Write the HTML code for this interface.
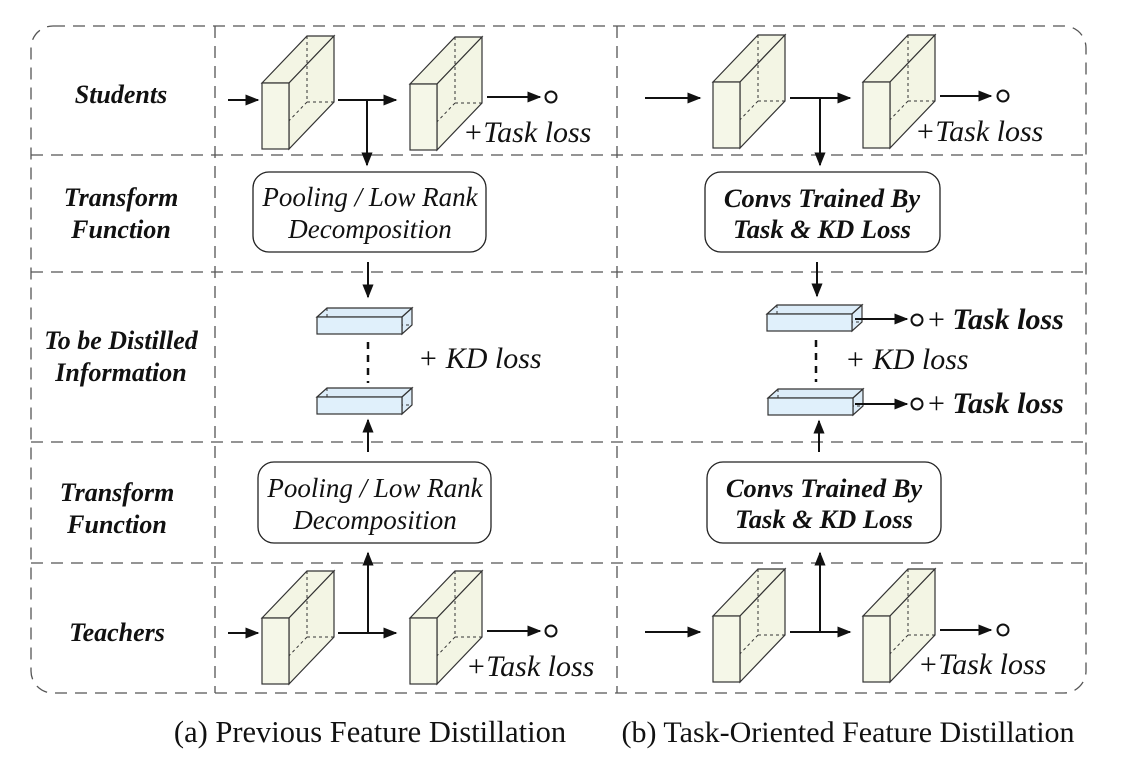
<!DOCTYPE html>
<html><head><meta charset="utf-8"><style>
html,body{margin:0;padding:0;background:#fff}
svg{display:block}
text{font-family:"Liberation Serif",serif;fill:#111}
.lbl{font-weight:bold;font-style:italic;font-size:26px}
.it{font-style:italic;font-size:27px}
.bl{font-weight:bold;font-style:italic;font-size:26.5px}
</style></head><body>
<svg width="1144" height="773" viewBox="0 0 1144 773" xmlns="http://www.w3.org/2000/svg">
<defs>
<marker id="a" viewBox="0 0 10 10" refX="9" refY="5" markerWidth="7" markerHeight="7" orient="auto"><path d="M0,1 L10,5 L0,9 z" fill="#111"/></marker>
<g id="box">
 <path d="M0,0 L45,-47 L72,-47 L27,0 Z" fill="#f3f5e4" stroke="#333" stroke-width="1.2"/>
 <path d="M27,0 L72,-47 L72,19 L27,66 Z" fill="#f3f5e4" stroke="#333" stroke-width="1.2"/>
 <path d="M45,-47 L45,19 L72,19 M45,19 L0,66" fill="none" stroke="#333" stroke-width="1" stroke-dasharray="3,3"/>
 <rect x="0" y="0" width="27" height="66" fill="#f5f7e8" stroke="#333" stroke-width="1.2"/>
</g>
<g id="flat">
 <path d="M0,0 L10,-9 L95,-9 L85,0 Z" fill="#dcecf8" stroke="#333" stroke-width="1.2"/>
 <path d="M85,0 L95,-9 L95,8 L85,17 Z" fill="#dcecf8" stroke="#333" stroke-width="1.2"/>
 <path d="M10,-9 L10,8 L95,8 M10,8 L0,17" fill="none" stroke="#333" stroke-width="1" stroke-dasharray="3,3"/>
 <rect x="0" y="0" width="85" height="17" fill="#e0f0fb" stroke="#333" stroke-width="1.2"/>
</g>
</defs>
<g fill="none" stroke="#555" stroke-width="1.3" stroke-dasharray="12,8">
 <rect x="31" y="26" width="1055" height="667" rx="22"/>
 <line x1="215" y1="26" x2="215" y2="693"/>
 <line x1="617" y1="26" x2="617" y2="693"/>
 <line x1="31" y1="155" x2="1086" y2="155"/>
 <line x1="31" y1="272" x2="1086" y2="272"/>
 <line x1="31" y1="442" x2="1086" y2="442"/>
 <line x1="31" y1="563" x2="1086" y2="563"/>
</g>
<text class="lbl" x="121" y="103" text-anchor="middle">Students</text>
<text class="lbl" x="121" y="206" text-anchor="middle">Transform</text>
<text class="lbl" x="121" y="238" text-anchor="middle">Function</text>
<text class="lbl" x="121" y="349" text-anchor="middle">To be Distilled</text>
<text class="lbl" x="121" y="381" text-anchor="middle">Information</text>
<text class="lbl" x="117" y="501" text-anchor="middle">Transform</text>
<text class="lbl" x="117" y="533" text-anchor="middle">Function</text>
<text class="lbl" x="117" y="641" text-anchor="middle">Teachers</text>
<use href="#box" x="262" y="83"/><use href="#box" x="410" y="84"/>
<use href="#box" x="713" y="82"/><use href="#box" x="863" y="82"/>
<use href="#box" x="262" y="618"/><use href="#box" x="410" y="618"/>
<use href="#box" x="713" y="616"/><use href="#box" x="863" y="616"/>
<use href="#flat" x="317" y="317"/><use href="#flat" x="317" y="397"/>
<use href="#flat" x="767" y="314"/><use href="#flat" x="768" y="398"/>
<g stroke="#111" stroke-width="2" fill="none" marker-end="url(#a)">
 <line x1="228" y1="100" x2="258" y2="100"/>
 <line x1="338" y1="100" x2="396" y2="100"/>
 <line x1="367" y1="100" x2="367" y2="165"/>
 <line x1="487" y1="97" x2="540" y2="97"/>
 <line x1="645" y1="98" x2="700" y2="98"/>
 <line x1="790" y1="98" x2="850" y2="98"/>
 <line x1="820" y1="98" x2="820" y2="165"/>
 <line x1="940" y1="96" x2="991" y2="96"/>
 <line x1="368" y1="262" x2="368" y2="297"/>
 <line x1="817" y1="262" x2="817" y2="296"/>
 <line x1="368" y1="452" x2="368" y2="420"/>
 <line x1="819" y1="452" x2="819" y2="421"/>
 <line x1="228" y1="633" x2="258" y2="633"/>
 <line x1="338" y1="633" x2="396" y2="633"/>
 <line x1="368" y1="633" x2="368" y2="553"/>
 <line x1="487" y1="631" x2="540" y2="631"/>
 <line x1="645" y1="632" x2="700" y2="632"/>
 <line x1="790" y1="632" x2="850" y2="632"/>
 <line x1="820" y1="632" x2="820" y2="553"/>
 <line x1="940" y1="630" x2="991" y2="630"/>
 <line x1="855" y1="319" x2="907" y2="319"/>
 <line x1="855" y1="404" x2="907" y2="404"/>
</g>
<g stroke="#111" stroke-width="2.5" fill="none" stroke-dasharray="7,6">
 <line x1="368" y1="342" x2="368" y2="383"/>
 <line x1="816" y1="340" x2="816" y2="382"/>
</g>
<g stroke="#111" stroke-width="2" fill="#fff">
 <circle cx="551" cy="97" r="5.5"/><circle cx="1003" cy="96" r="5.5"/>
 <circle cx="551" cy="631" r="5.5"/><circle cx="1003" cy="630" r="5.5"/>
 <circle cx="917" cy="320" r="5.5"/><circle cx="917" cy="404" r="5.5"/>
</g>
<g fill="#fff" stroke="#222" stroke-width="1.3">
 <rect x="253" y="172" width="233" height="80" rx="16"/>
 <rect x="705" y="172" width="235" height="80" rx="16"/>
 <rect x="258" y="462" width="233" height="81" rx="16"/>
 <rect x="707" y="462" width="234" height="81" rx="16"/>
</g>
<text class="it" x="370" y="206" text-anchor="middle">Pooling / Low Rank</text>
<text class="it" x="370" y="238" text-anchor="middle">Decomposition</text>
<text class="it" x="375" y="497" text-anchor="middle">Pooling / Low Rank</text>
<text class="it" x="375" y="529" text-anchor="middle">Decomposition</text>
<text class="bl" x="822" y="207" text-anchor="middle">Convs Trained By</text>
<text class="bl" x="822" y="238" text-anchor="middle">Task &amp; KD Loss</text>
<text class="bl" x="824" y="497" text-anchor="middle">Convs Trained By</text>
<text class="bl" x="824" y="528" text-anchor="middle">Task &amp; KD Loss</text>
<g style="font-style:italic;font-size:30px">
<text x="463" y="142">+Task loss</text>
<text x="915" y="141">+Task loss</text>
<text x="466" y="676">+Task loss</text>
<text x="918" y="674">+Task loss</text>
<text x="418" y="368">+ KD loss</text>
<text x="845" y="369">+ KD loss</text>
</g>
<text x="928" y="329" style="font-size:30px">+ <tspan font-weight="bold" font-style="italic">Task loss</tspan></text>
<text x="928" y="413" style="font-size:30px">+ <tspan font-weight="bold" font-style="italic">Task loss</tspan></text>
<text x="370" y="742" text-anchor="middle" style="font-size:30.5px">(a) Previous Feature Distillation</text>
<text x="848" y="742" text-anchor="middle" style="font-size:30px">(b) Task-Oriented Feature Distillation</text>
</svg>
</body></html>
